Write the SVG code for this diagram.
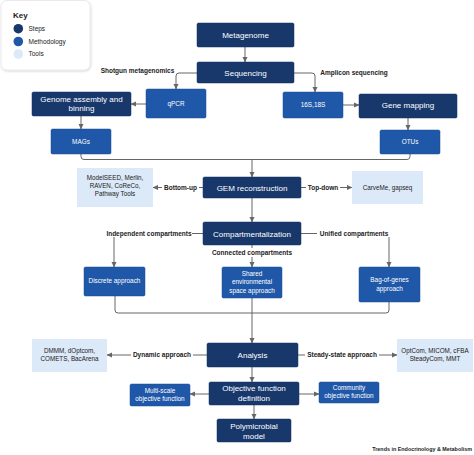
<svg xmlns="http://www.w3.org/2000/svg" width="474" height="455" viewBox="0 0 474 455">
<defs>
<marker id="ah" markerWidth="6" markerHeight="6" refX="5" refY="3" orient="auto" markerUnits="userSpaceOnUse">
<path d="M0,0.5 L5.5,3 L0,5.5 Z" fill="#666"/>
</marker>
<filter id="sh" x="-10%" y="-10%" width="130%" height="130%">
<feDropShadow dx="0.5" dy="1" stdDeviation="1.2" flood-color="#000" flood-opacity="0.18"/>
</filter>
</defs>
<style>
text{font-family:"Liberation Sans",Arial,sans-serif;text-anchor:middle}
.step{fill:#18386c;stroke:#12305e;stroke-width:0.5}
.meth{fill:#1f58a8;stroke:#1a4d96;stroke-width:0.5}
.tool{fill:#dce9f8}
.ts{fill:#fff;font-size:8px}
.tm{fill:#fff;font-size:6.4px}
.tt{fill:#222;font-size:6.3px}
.lb{fill:#222;font-size:6.5px;font-weight:bold}
.lbg{fill:#fff}
.c{fill:none;stroke:#666;stroke-width:1}
.ca{fill:none;stroke:#666;stroke-width:1;marker-end:url(#ah)}
</style>
<rect width="474" height="455" fill="#fff"/>

<g id="key">
<rect x="1" y="0.5" width="89" height="69.5" rx="6" fill="#fff" stroke="#e6e6e6" stroke-width="0.8" filter="url(#sh)"/>
<text x="13" y="18" style="text-anchor:start;font-size:8px;font-weight:bold" fill="#222">Key</text>
<circle cx="18.3" cy="28.7" r="4.8" fill="#18386c"/>
<circle cx="18.3" cy="41.5" r="4.8" fill="#1f58a8"/>
<circle cx="18.3" cy="54" r="4.8" fill="#dce9f8"/>
<text x="28.5" y="31" style="text-anchor:start;font-size:6.5px" fill="#222">Steps</text>
<text x="28.5" y="43.8" style="text-anchor:start;font-size:6.5px" fill="#222">Methodology</text>
<text x="28.5" y="56.3" style="text-anchor:start;font-size:6.5px" fill="#222">Tools</text>
</g>

<g id="connectors">
<path class="ca" d="M245,47 V62"/>
<path class="ca" d="M197,73 H179 Q176,73 176,76 V89"/>
<path class="ca" d="M294,73 H312 Q315,73 315,76 V92"/>
<path class="ca" d="M146,104 H131"/>
<path class="ca" d="M343,105 H359"/>
<path class="ca" d="M81,116 V129"/>
<path class="ca" d="M408,118 V130"/>
<path class="c" d="M81,154 V156.5 Q81,159.5 84,159.5 H407 Q410,159.5 410,156.5 V154"/>
<path class="ca" d="M252,159.5 V177"/>
<path class="ca" d="M203,187.5 H153"/>
<path class="ca" d="M301,187.5 H352"/>
<path class="ca" d="M252,198 V222"/>
<path class="ca" d="M203,233.5 H117 Q114,233.5 114,236.5 V267"/>
<path class="ca" d="M301,233.5 H386 Q389,233.5 389,236.5 V267"/>
<path class="ca" d="M252,245 V267"/>
<path class="c" d="M115,296 V310 Q115,313 118,313 H386 Q389,313 389,310 V302"/>
<path class="ca" d="M252,298 V343"/>
<path class="ca" d="M207,355 H107"/>
<path class="ca" d="M298,355 H397"/>
<path class="ca" d="M252,367 V382"/>
<path class="ca" d="M209,394 H190"/>
<path class="ca" d="M299,394 H319"/>
<path class="ca" d="M254,405 V419"/>
</g>

<g id="labels">
<rect class="lbg" x="162" y="183" width="37" height="9"/>
<text class="lb" x="180.5" y="189.8">Bottom-up</text>
<rect class="lbg" x="306" y="183" width="34" height="9"/>
<text class="lb" x="323" y="189.8">Top-down</text>
<rect class="lbg" x="106" y="228" width="86" height="9"/>
<text class="lb" x="149" y="235.8">Independent compartments</text>
<rect class="lbg" x="317" y="228" width="74" height="9"/>
<text class="lb" x="354" y="235.8">Unified compartments</text>
<rect class="lbg" x="208" y="248" width="88" height="9"/>
<text class="lb" x="252" y="255.3">Connected  compartments</text>
<rect class="lbg" x="131" y="350" width="62" height="9"/>
<text class="lb" x="162" y="357.3">Dynamic approach</text>
<rect class="lbg" x="305" y="350" width="74" height="9"/>
<text class="lb" x="342" y="357.3">Steady-state approach</text>
<text class="lb" x="137.5" y="72.5">Shotgun metagenomics</text>
<text class="lb" x="354" y="74.5">Amplicon sequencing</text>
</g>

<g id="metagenome"><rect class="step" x="197" y="23" width="97" height="24" rx="1.5"/><text class="ts" x="245.5" y="37.8">Metagenome</text></g>
<g id="sequencing"><rect class="step" x="197" y="62" width="97" height="21" rx="1.5"/><text class="ts" x="245.5" y="75.5">Sequencing</text></g>
<g id="qpcr"><rect class="meth" x="146" y="89" width="60" height="29" rx="1.5"/><text class="tm" x="176" y="105.8">qPCR</text></g>
<g id="genome-assembly"><rect class="step" x="32" y="92" width="99" height="24" rx="1.5"/><text class="ts" x="81.5" y="101.5">Genome assembly and</text><text class="ts" x="81.5" y="111">binning</text></g>
<g id="mags"><rect class="meth" x="51" y="129" width="60" height="25" rx="1.5"/><text class="tm" x="81" y="143.8">MAGs</text></g>
<g id="s16"><rect class="meth" x="283" y="92" width="60" height="26" rx="1.5"/><text class="tm" x="313" y="107.2">16S,18S</text></g>
<g id="gene-mapping"><rect class="step" x="359" y="94" width="98" height="24" rx="1.5"/><text class="ts" x="408" y="107.6">Gene mapping</text></g>
<g id="otus"><rect class="meth" x="380" y="130" width="60" height="24" rx="1.5"/><text class="tm" x="410" y="144.3">OTUs</text></g>
<g id="gem"><rect class="step" x="203" y="177" width="98" height="21" rx="1.5"/><text class="ts" x="252" y="190.5">GEM reconstruction</text></g>
<g id="tools-bottomup"><rect class="tool" x="77" y="168" width="76" height="39"/><text class="tt" x="115" y="180">ModelSEED, Merlin,</text><text class="tt" x="115" y="188">RAVEN, CoReCo,</text><text class="tt" x="115" y="196">Pathway Tools</text></g>
<g id="tools-topdown"><rect class="tool" x="352" y="171" width="71" height="33"/><text class="tt" x="387.5" y="189.5">CarveMe, gapseq</text></g>
<g id="compartmentalization"><rect class="step" x="203" y="222" width="98" height="23" rx="1.5"/><text class="ts" x="252" y="236.5">Compartmentalization</text></g>
<g id="discrete"><rect class="meth" x="84" y="267" width="61" height="29" rx="1.5"/><text class="tm" x="114.5" y="283.2">Discrete approach</text></g>
<g id="shared"><rect class="meth" x="222" y="267" width="60" height="31" rx="1.5"/><text class="tm" x="252" y="275.5">Shared</text><text class="tm" x="252" y="284">environmental</text><text class="tm" x="252" y="292.5">space approach</text></g>
<g id="bag"><rect class="meth" x="359" y="267" width="61" height="35" rx="1.5"/><text class="tm" x="389.5" y="282">Bag-of-genes</text><text class="tm" x="389.5" y="290.5">approach</text></g>
<g id="analysis"><rect class="step" x="207" y="343" width="91" height="24" rx="1.5"/><text class="ts" x="252.5" y="357.8">Analysis</text></g>
<g id="tools-dynamic"><rect class="tool" x="32" y="339" width="75" height="33"/><text class="tt" x="69.5" y="353">DMMM, dOptcom,</text><text class="tt" x="69.5" y="360.5">COMETS, BacArena</text></g>
<g id="tools-steady"><rect class="tool" x="397" y="339" width="76" height="33"/><text class="tt" x="435" y="353">OptCom, MICOM, cFBA</text><text class="tt" x="435" y="360.5">SteadyCom, MMT</text></g>
<g id="objective"><rect class="step" x="209" y="382" width="90" height="23" rx="1.5"/><text class="ts" x="254" y="391">Objective function</text><text class="ts" x="254" y="400.5">definition</text></g>
<g id="multiscale"><rect class="meth" x="130" y="384" width="60" height="22" rx="1.5"/><text class="tm" x="160" y="392.5">Multi-scale</text><text class="tm" x="160" y="400.5">objective function</text></g>
<g id="community"><rect class="meth" x="319" y="382" width="60" height="21" rx="1.5"/><text class="tm" x="349" y="390">Community</text><text class="tm" x="349" y="398">objective function</text></g>
<g id="polymicrobial"><rect class="step" x="217" y="419" width="74" height="23" rx="1.5"/><text class="ts" x="254" y="428.5">Polymicrobial</text><text class="ts" x="254" y="438.5">model</text></g>

<text x="472" y="451" style="text-anchor:end;font-size:5.4px;font-weight:bold" fill="#222">Trends in Endocrinology &amp; Metabolism</text>
</svg>
